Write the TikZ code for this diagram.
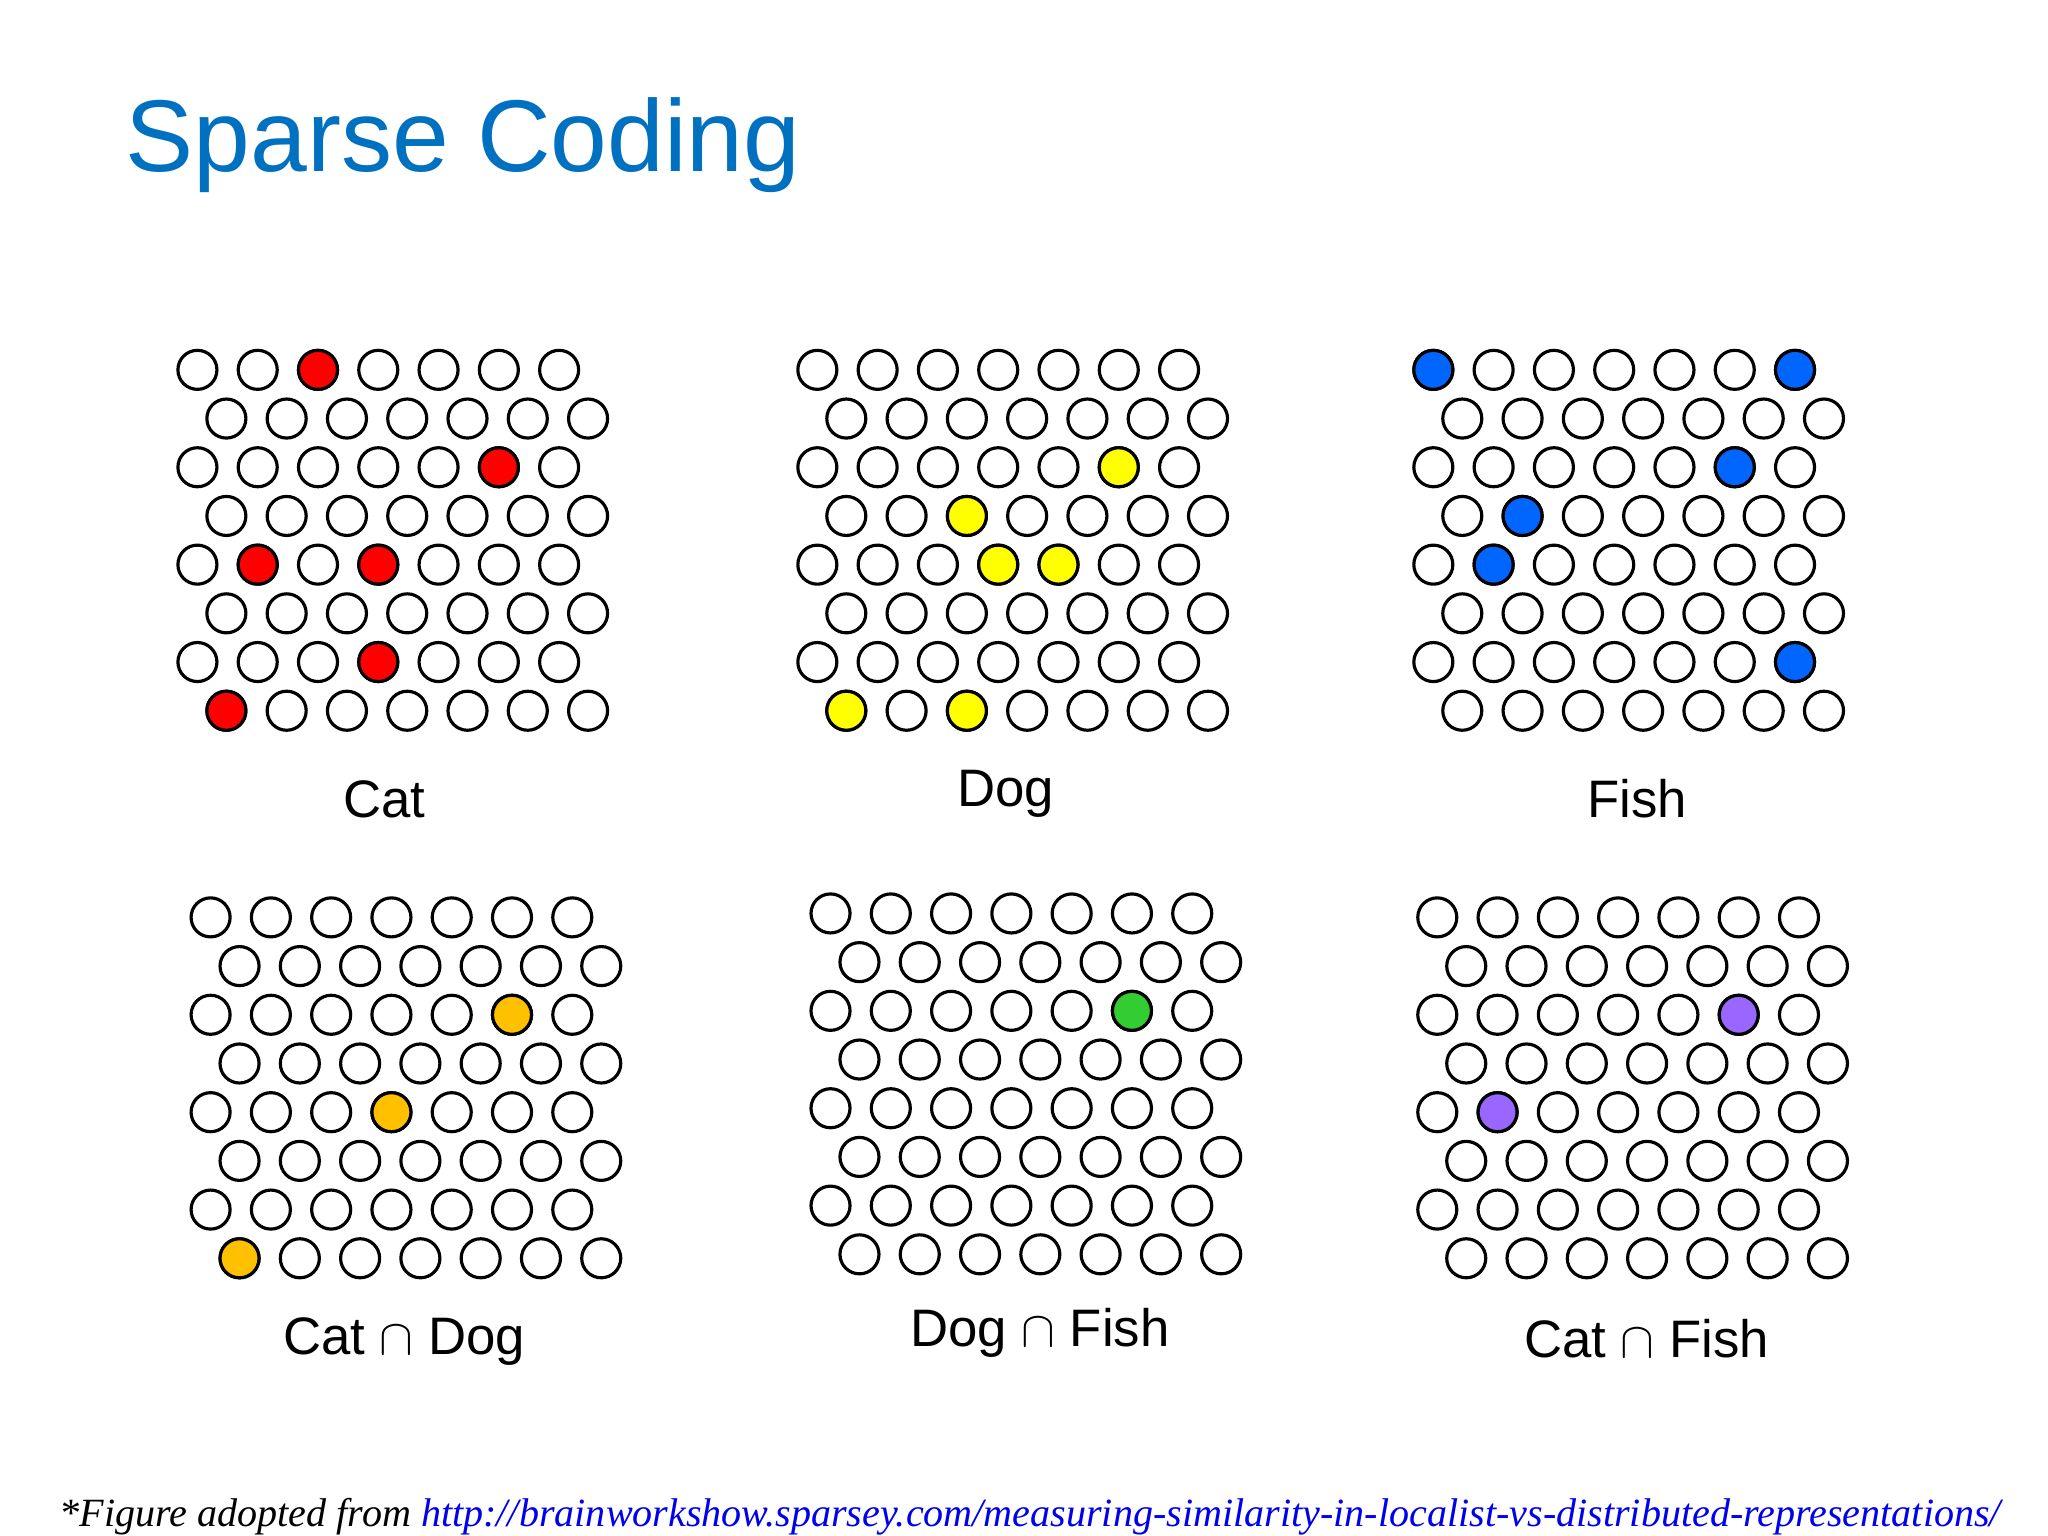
\documentclass[tikz,border=0pt]{standalone}
\usepackage{fontspec}
\setmainfont{Liberation Sans}
\newfontfamily\serifit{Liberation Serif}
\usepackage{xcolor}
\definecolor{titleblue}{RGB}{0,112,192}
\definecolor{cred}{RGB}{255,0,0}
\definecolor{cyellow}{RGB}{255,255,0}
\definecolor{cblue}{RGB}{0,102,255}
\definecolor{corange}{RGB}{255,192,0}
\definecolor{cgreen}{RGB}{51,204,51}
\definecolor{cpurple}{RGB}{153,102,255}
\definecolor{linkblue}{RGB}{0,0,238}
\begin{document}
\begin{tikzpicture}[x=0.01316cm,y=-0.01316cm,
  neuron/.style={circle,draw=black,line width=0.9pt,minimum size=0.39cm,inner sep=0pt,fill=white},
  lbl/.style={font=\fontsize{15}{18}\selectfont}]
\useasboundingbox (0,0) rectangle (1556,1167);
\fill[white] (0,0) rectangle (1556,1167);
\node[anchor=base west,text=titleblue,font=\fontsize{29}{35}\selectfont,inner sep=0pt] (title) at (95,130) {Sparse Coding};
\def\panel#1#2#3#4#5{%
  \foreach \r in {0,...,7}{\foreach \c in {0,...,6}{%
    \pgfmathsetmacro\px{#2+\c*45.8+mod(\r,2)*22}%
    \pgfmathsetmacro\py{#3+\r*37}%
    \node[neuron] (#1-\r-\c) at (\px,\py) {};}}%
  \foreach \r/\c in {#5}{\node[neuron,fill=#4] at (#1-\r-\c) {};}}
\panel{cat}{150}{281}{cred}{0/2,2/5,4/1,4/3,6/3,7/0}
\panel{dog}{621}{281}{cyellow}{2/5,3/2,4/3,4/4,7/0,7/2}
\panel{fish}{1089}{281}{cblue}{0/0,0/6,2/5,3/1,4/1,6/6}
\panel{cd}{160}{697}{corange}{2/5,4/3,7/0}
\panel{df}{631}{694}{cgreen}{2/5}
\panel{cf}{1092}{697}{cpurple}{2/5,4/1}
\node[lbl] (l1) at (292,607) {Cat};
\node[lbl] (l2) at (764,603) {Dog};
\node[lbl] (l3) at (1244,607) {Fish};
\node[lbl] (l4) at (307,1019) {Cat $\cap$ Dog};
\node[lbl] (l5) at (790,1013) {Dog $\cap$ Fish};
\node[lbl] (l6) at (1251,1017) {Cat $\cap$ Fish};
\node[anchor=base west,inner sep=0pt,font=\serifit\itshape\fontsize{11.4}{14}\selectfont] (foot) at (45,1160)
  {*Figure adopted from \textcolor{linkblue}{\underline{http://brainworkshow.sparsey.com/measuring-similarity-in-localist-vs-distributed-representations/}}};
\end{tikzpicture}
\end{document}
